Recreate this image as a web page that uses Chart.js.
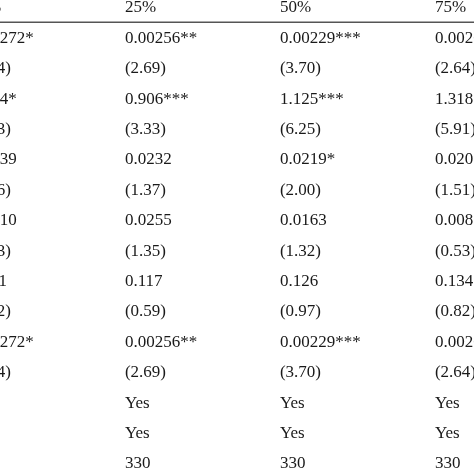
<!DOCTYPE html>
<html>
<head>
<meta charset="utf-8">
<script src="https://cdn.jsdelivr.net/npm/chart.js@4"></script>
<style>
  body { margin: 0; background: #fff; }
  #wrap { width: 474px; height: 474px; }
</style>
</head>
<body>
<div id="wrap"><canvas id="tabela"></canvas></div>
<script>
const headers = ["10%", "25%", "50%", "75%"];
const col10 = ["0.00272*", "(2.74)", "0.774*", "(2.13)", "0.0239", "(1.66)", "0.0310", "(1.43)", "0.111", "(0.72)", "0.00272*", "(2.74)", "", "", ""];
const col25 = ["0.00256**", "(2.69)", "0.906***", "(3.33)", "0.0232", "(1.37)", "0.0255", "(1.35)", "0.117", "(0.59)", "0.00256**", "(2.69)", "Yes", "Yes", "330"];
const col50 = ["0.00229***", "(3.70)", "1.125***", "(6.25)", "0.0219*", "(2.00)", "0.0163", "(1.32)", "0.126", "(0.97)", "0.00229***", "(3.70)", "Yes", "Yes", "330"];
const col75 = ["0.00208**", "(2.64)", "1.318***", "(5.91)", "0.0203", "(1.51)", "0.0081", "(0.53)", "0.134", "(0.82)", "0.00208**", "(2.64)", "Yes", "Yes", "330"];
const columns = [col10, col25, col50, col75];

const FONT = '17px "Liberation Serif", "Times New Roman", serif';

const datasets = columns.map((col, c) => ({
  label: headers[c],
  texts: [headers[c], ...col],
  data: [headers[c], ...col].map((_, r) => ({ x: c, y: r })),
  pointRadius: 0,
  showLine: false,
}));

const textPlugin = {
  id: "cellText",
  afterDatasetsDraw(chart) {
    const ctx = chart.ctx;
    const ys = chart.scales.y;
    ctx.save();
    // linha abaixo do cabecalho
    ctx.strokeStyle = "#555";
    ctx.lineWidth = 1.5;
    const ly = ys.getPixelForValue(0.47);
    ctx.beginPath();
    ctx.moveTo(0, ly);
    ctx.lineTo(chart.width, ly);
    ctx.stroke();

    ctx.font = FONT;
    ctx.fillStyle = "#1a1a1a";
    ctx.textAlign = "left";
    ctx.textBaseline = "middle";
    chart.data.datasets.forEach((ds, i) => {
      chart.getDatasetMeta(i).data.forEach((pt, j) => {
        const t = ds.texts[j];
        if (t) ctx.fillText(t, pt.x, pt.y);
      });
    });
    ctx.restore();
  },
};

new Chart(document.getElementById("tabela"), {
  type: "scatter",
  data: { datasets },
  options: {
    responsive: true,
    maintainAspectRatio: false,
    animation: false,
    layout: { padding: 0 },
    plugins: { legend: { display: false }, tooltip: { enabled: false } },
    scales: {
      x: { type: "linear", display: false, min: 0.194, max: 0.194 + 474 / 155 },
      y: { type: "linear", display: false, reverse: true, min: -0.263, max: -0.263 + 474 / 30.4 },
    },
  },
  plugins: [textPlugin],
});
</script>
</body>
</html>
